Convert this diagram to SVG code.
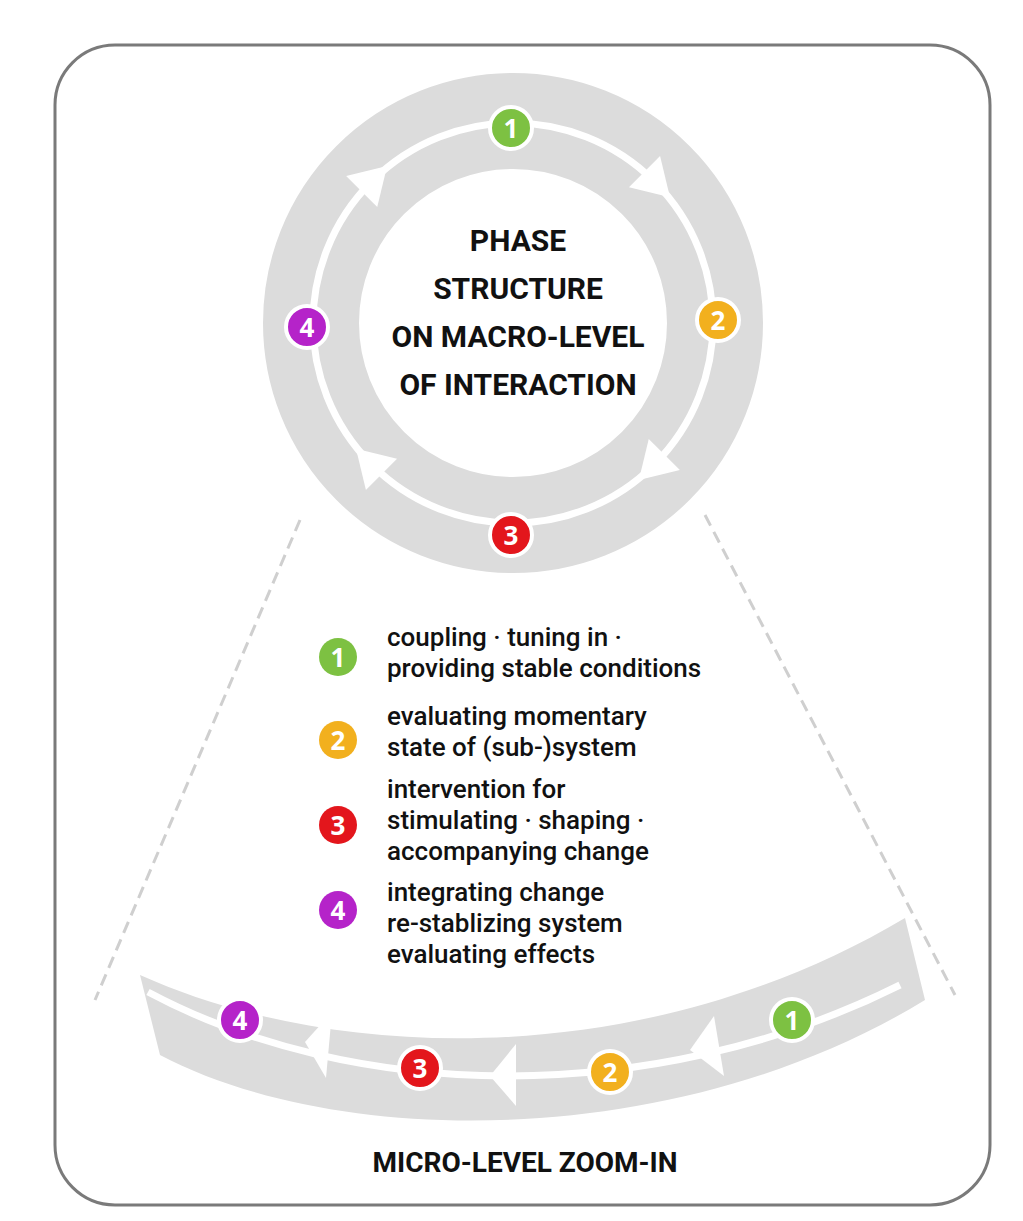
<svg xmlns="http://www.w3.org/2000/svg" width="1023" height="1221" viewBox="0 0 1023 1221">
<style>
.band{fill:#dcdcdc}
.track{fill:none;stroke:#fff;stroke-width:7}
.arr{fill:#fff}
.b circle{stroke:#fff;stroke-width:4}
.b text{font-family:"Open Sans","Liberation Sans",sans-serif;font-weight:700;font-size:26px;fill:#fff;text-anchor:middle}
.t{font-family:Roboto,"Liberation Sans",sans-serif;font-weight:700;font-size:30px;fill:#111;text-anchor:middle}
.l{font-family:Roboto,"Liberation Sans",sans-serif;font-weight:500;font-size:26px;fill:#111}
.g{fill:#7dc142}.o{fill:#f2b01e}.r{fill:#e3161c}.p{fill:#b523c9}
.dash{stroke:#cfcfcf;stroke-width:3;stroke-dasharray:12 7;fill:none}
</style>
<defs>
<g id="tri"><polygon points="0,22 -22,-14 22,-14"/></g>
</defs>
<rect x="55" y="45" width="935" height="1160" rx="60" fill="#fff" stroke="#7a7a7a" stroke-width="3"/>
<g id="connectors">
<line class="dash" x1="300" y1="520" x2="95" y2="1000"/>
<line class="dash" x1="705" y1="515" x2="955" y2="995"/>
</g>
<g id="ring">
<circle cx="513" cy="323" r="202" fill="none" stroke="#dcdcdc" stroke-width="96"/>
<circle class="track" cx="513" cy="323" r="200"/>
<g class="arr" transform="translate(513 323)">
<use href="#tri" transform="rotate(-45) translate(200 0)"/>
<use href="#tri" transform="rotate(45) translate(200 0)"/>
<use href="#tri" transform="rotate(135) translate(200 0)"/>
<use href="#tri" transform="rotate(225) translate(200 0)"/>
</g>
</g>
<g id="title">
<text class="t" x="518" y="251">PHASE</text>
<text class="t" x="518" y="299">STRUCTURE</text>
<text class="t" x="518" y="347">ON MACRO-LEVEL</text>
<text class="t" x="518" y="395">OF INTERACTION</text>
</g>
<g id="ring-badges" class="b">
<g><circle class="g" cx="511" cy="128" r="21"/><text x="511" y="138">1</text></g>
<g><circle class="o" cx="718" cy="320" r="21"/><text x="718" y="330">2</text></g>
<g><circle class="r" cx="511" cy="535" r="21"/><text x="511" y="545">3</text></g>
<g><circle class="p" cx="307" cy="327" r="21"/><text x="307" y="337">4</text></g>
</g>
<g id="legend">
<g class="b"><circle class="g" cx="338" cy="657" r="19" style="stroke:none"/><text x="338" y="667">1</text></g>
<text class="l" x="387" y="646">coupling · tuning in ·</text>
<text class="l" x="387" y="677">providing stable conditions</text>
<g class="b"><circle class="o" cx="338" cy="740" r="19" style="stroke:none"/><text x="338" y="750">2</text></g>
<text class="l" x="387" y="725">evaluating momentary</text>
<text class="l" x="387" y="756">state of (sub-)system</text>
<g class="b"><circle class="r" cx="338" cy="825" r="19" style="stroke:none"/><text x="338" y="835">3</text></g>
<text class="l" x="387" y="798">intervention for</text>
<text class="l" x="387" y="829">stimulating · shaping ·</text>
<text class="l" x="387" y="860">accompanying change</text>
<g class="b"><circle class="p" cx="338" cy="910" r="19" style="stroke:none"/><text x="338" y="920">4</text></g>
<text class="l" x="387" y="901">integrating change</text>
<text class="l" x="387" y="932">re-stablizing system</text>
<text class="l" x="387" y="963">evaluating effects</text>
</g>
<g id="micro">
<path class="band" d="M140,975 C340,1065 650,1070 905,918 L925,1000 C680,1150 340,1150 160,1055 Z"/>
<path class="track" d="M148,992 C350,1100 650,1110 900,985"/>
<g class="arr">
<polygon points="305,1042 332,1012 326,1078"/>
<polygon points="490,1076 516,1044 516,1106"/>
<polygon points="690,1050 714,1016 724,1076"/>
</g>
<g class="b">
<g><circle class="p" cx="240" cy="1020" r="21"/><text x="240" y="1030">4</text></g>
<g><circle class="r" cx="420" cy="1068" r="21"/><text x="420" y="1078">3</text></g>
<g><circle class="o" cx="610" cy="1072" r="21"/><text x="610" y="1082">2</text></g>
<g><circle class="g" cx="792" cy="1020" r="21"/><text x="792" y="1030">1</text></g>
</g>
<text class="t" x="525" y="1172" style="font-size:28px">MICRO-LEVEL ZOOM-IN</text>
</g>
</svg>
